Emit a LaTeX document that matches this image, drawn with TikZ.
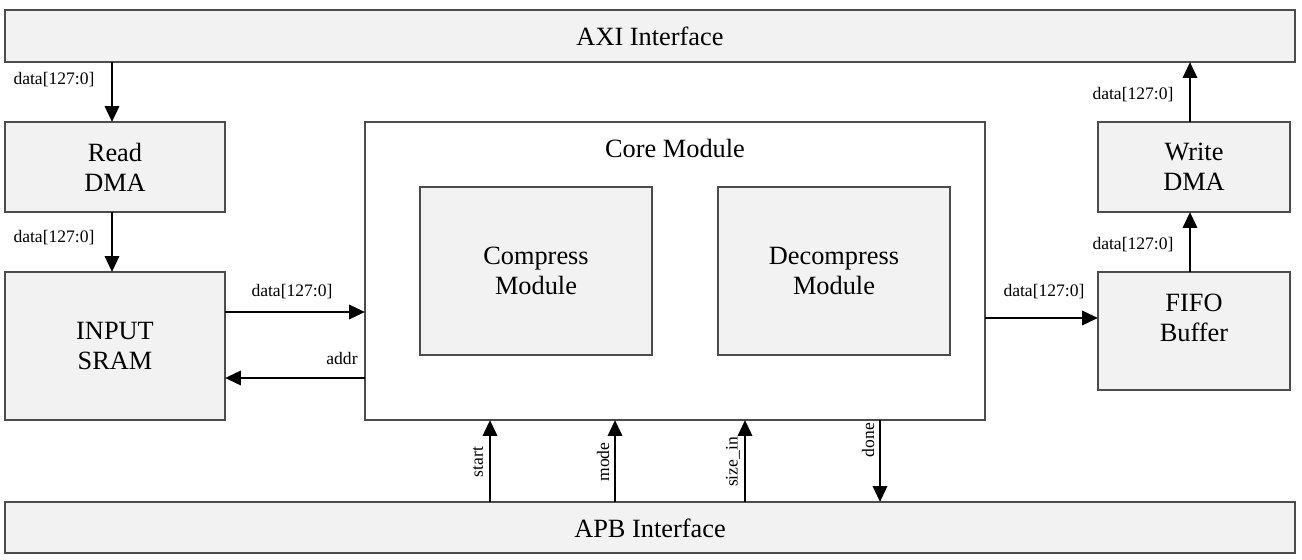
\documentclass[tikz,border=0pt]{standalone}
\usepackage{fontspec}
\setmainfont{Liberation Serif}
\setsansfont{Liberation Serif}
\usetikzlibrary{arrows.meta}
\begin{document}
\begin{tikzpicture}[x=0.02cm,y=-0.02cm,
  blk/.style={draw=black!70,fill=black!5,line width=0.6pt},
  big/.style={font=\rmfamily\fontsize{15}{17}\selectfont,align=center},
  arr/.style={line width=1.6pt,-{Triangle[length=9pt,width=8pt]}},
  lab/.style={font=\rmfamily\fontsize{10}{11}\selectfont,inner sep=1pt}]
\useasboundingbox (0,0) rectangle (1302,560);
\path[blk] (5,10) rectangle (1295,62); \node[big] (axi) at (650,36) {AXI Interface};
\coordinate (axiA) at (112,62); \coordinate (axiB) at (1190,62);
\path[blk] (5,122) rectangle (225,212); \node[big] (rd) at (115,167) {\rmfamily Read\\\rmfamily DMA};
\path[blk] (5,272) rectangle (225,420); \node[big] (sr) at (115,346) {\rmfamily INPUT\\\rmfamily SRAM};
\path[draw=black!70,fill=white,line width=0.6pt] (365,122) rectangle (985,420);
\node[big] (core) at (675,148) {Core Module};
\path[blk] (420,187) rectangle (652,355); \node[big] (cm) at (536,271) {\rmfamily Compress\\\rmfamily Module};
\path[blk] (718,187) rectangle (950,355); \node[big] (dm) at (834,271) {\rmfamily Decompress\\\rmfamily Module};
\path[blk] (1098,122) rectangle (1290,212); \node[big] (wd) at (1194,167) {\rmfamily Write\\\rmfamily DMA};
\path[blk] (1098,272) rectangle (1290,390); \node[big] (ff) at (1194,318) {\rmfamily FIFO\\\rmfamily Buffer};
\path[blk] (5,502) rectangle (1295,553); \node[big] (apb) at (650,528) {APB Interface};

\draw[arr] (axiA) -- (112,122); \node[lab] at (54,80) {data[127:0]};
\draw[arr] (112,212) -- (112,272); \node[lab] at (54,238) {data[127:0]};
\draw[arr] (225,312) -- (365,312); \node[lab] at (292,292) {data[127:0]};
\draw[arr] (365,378) -- (225,378); \node[lab] at (342,358) {addr};
\draw[arr] (985,318) -- (1098,318); \node[lab] at (1044,292) {data[127:0]};
\draw[arr] (1190,272) -- (1190,212); \node[lab] at (1133,245) {data[127:0]};
\draw[arr] (1190,122) -- (axiB); \node[lab] at (1133,95) {data[127:0]};
\draw[arr] (490,502) -- (490,420); \node[lab,rotate=90] at (478,462) {start};
\draw[arr] (615,502) -- (615,420); \node[lab,rotate=90] at (603,462) {mode};
\draw[arr] (745,502) -- (745,420); \node[lab,rotate=90] at (733,462) {size\_in};
\draw[arr] (880,420) -- (880,502); \node[lab,rotate=90] at (868,440) {done};
\end{tikzpicture}
\end{document}
